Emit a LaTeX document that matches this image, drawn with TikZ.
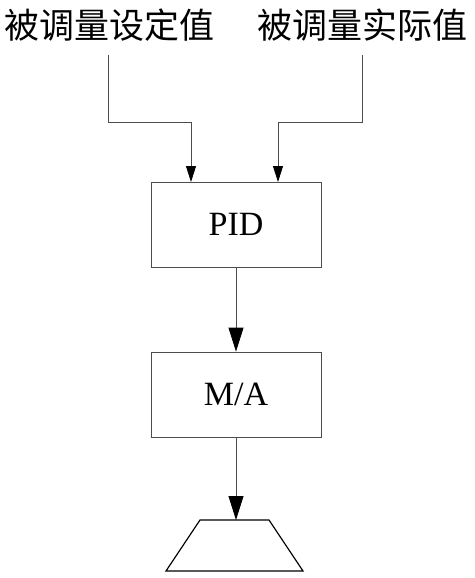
\documentclass[tikz,border=0pt]{standalone}
\usepackage{fontspec}
\setmainfont{Liberation Serif}
\newfontfamily\cjk{Noto Sans CJK SC}
\usetikzlibrary{arrows.meta}
\begin{document}
\begin{tikzpicture}[x=1pt,y=-1pt,
  blk/.style={draw=black!70,line width=0.8pt,minimum width=170pt,minimum height=85pt,inner sep=0pt,font=\fontsize{34}{40}\selectfont},
  lbl/.style={font=\cjk\fontsize{35}{40}\selectfont,inner sep=0pt},
  thin/.style={draw=black!70,line width=0.8pt},
  sarr/.style={thin,-{Triangle[width=10pt,length=16pt,color=black]}},
  barr/.style={thin,-{Triangle[width=15pt,length=24pt,color=black]}}]
\useasboundingbox (0,0) rectangle (474,578);
\node[lbl] (set) at (110,25) {被调量设定值};
\node[lbl] (act) at (362,25) {被调量实际值};
\node[blk] (pid) at (236,224.5) {PID};
\node[blk] (ma) at (236,394.5) {M/A};
\coordinate (s0) at (108,55);
\coordinate (a0) at (362,55);
\draw[sarr] (s0) |- (191,122) -- (191,182);
\draw[sarr] (a0) |- (278,122) -- (278,182);
\draw[barr] (pid.south) -- (ma.north);
\coordinate (vt) at (236,520);
\draw[barr] (ma.south) -- (vt);
\draw[line width=1.2pt,line join=miter] (200,520) -- (269,520) -- (303,571) -- (166,571) -- cycle;
\end{tikzpicture}
\end{document}
